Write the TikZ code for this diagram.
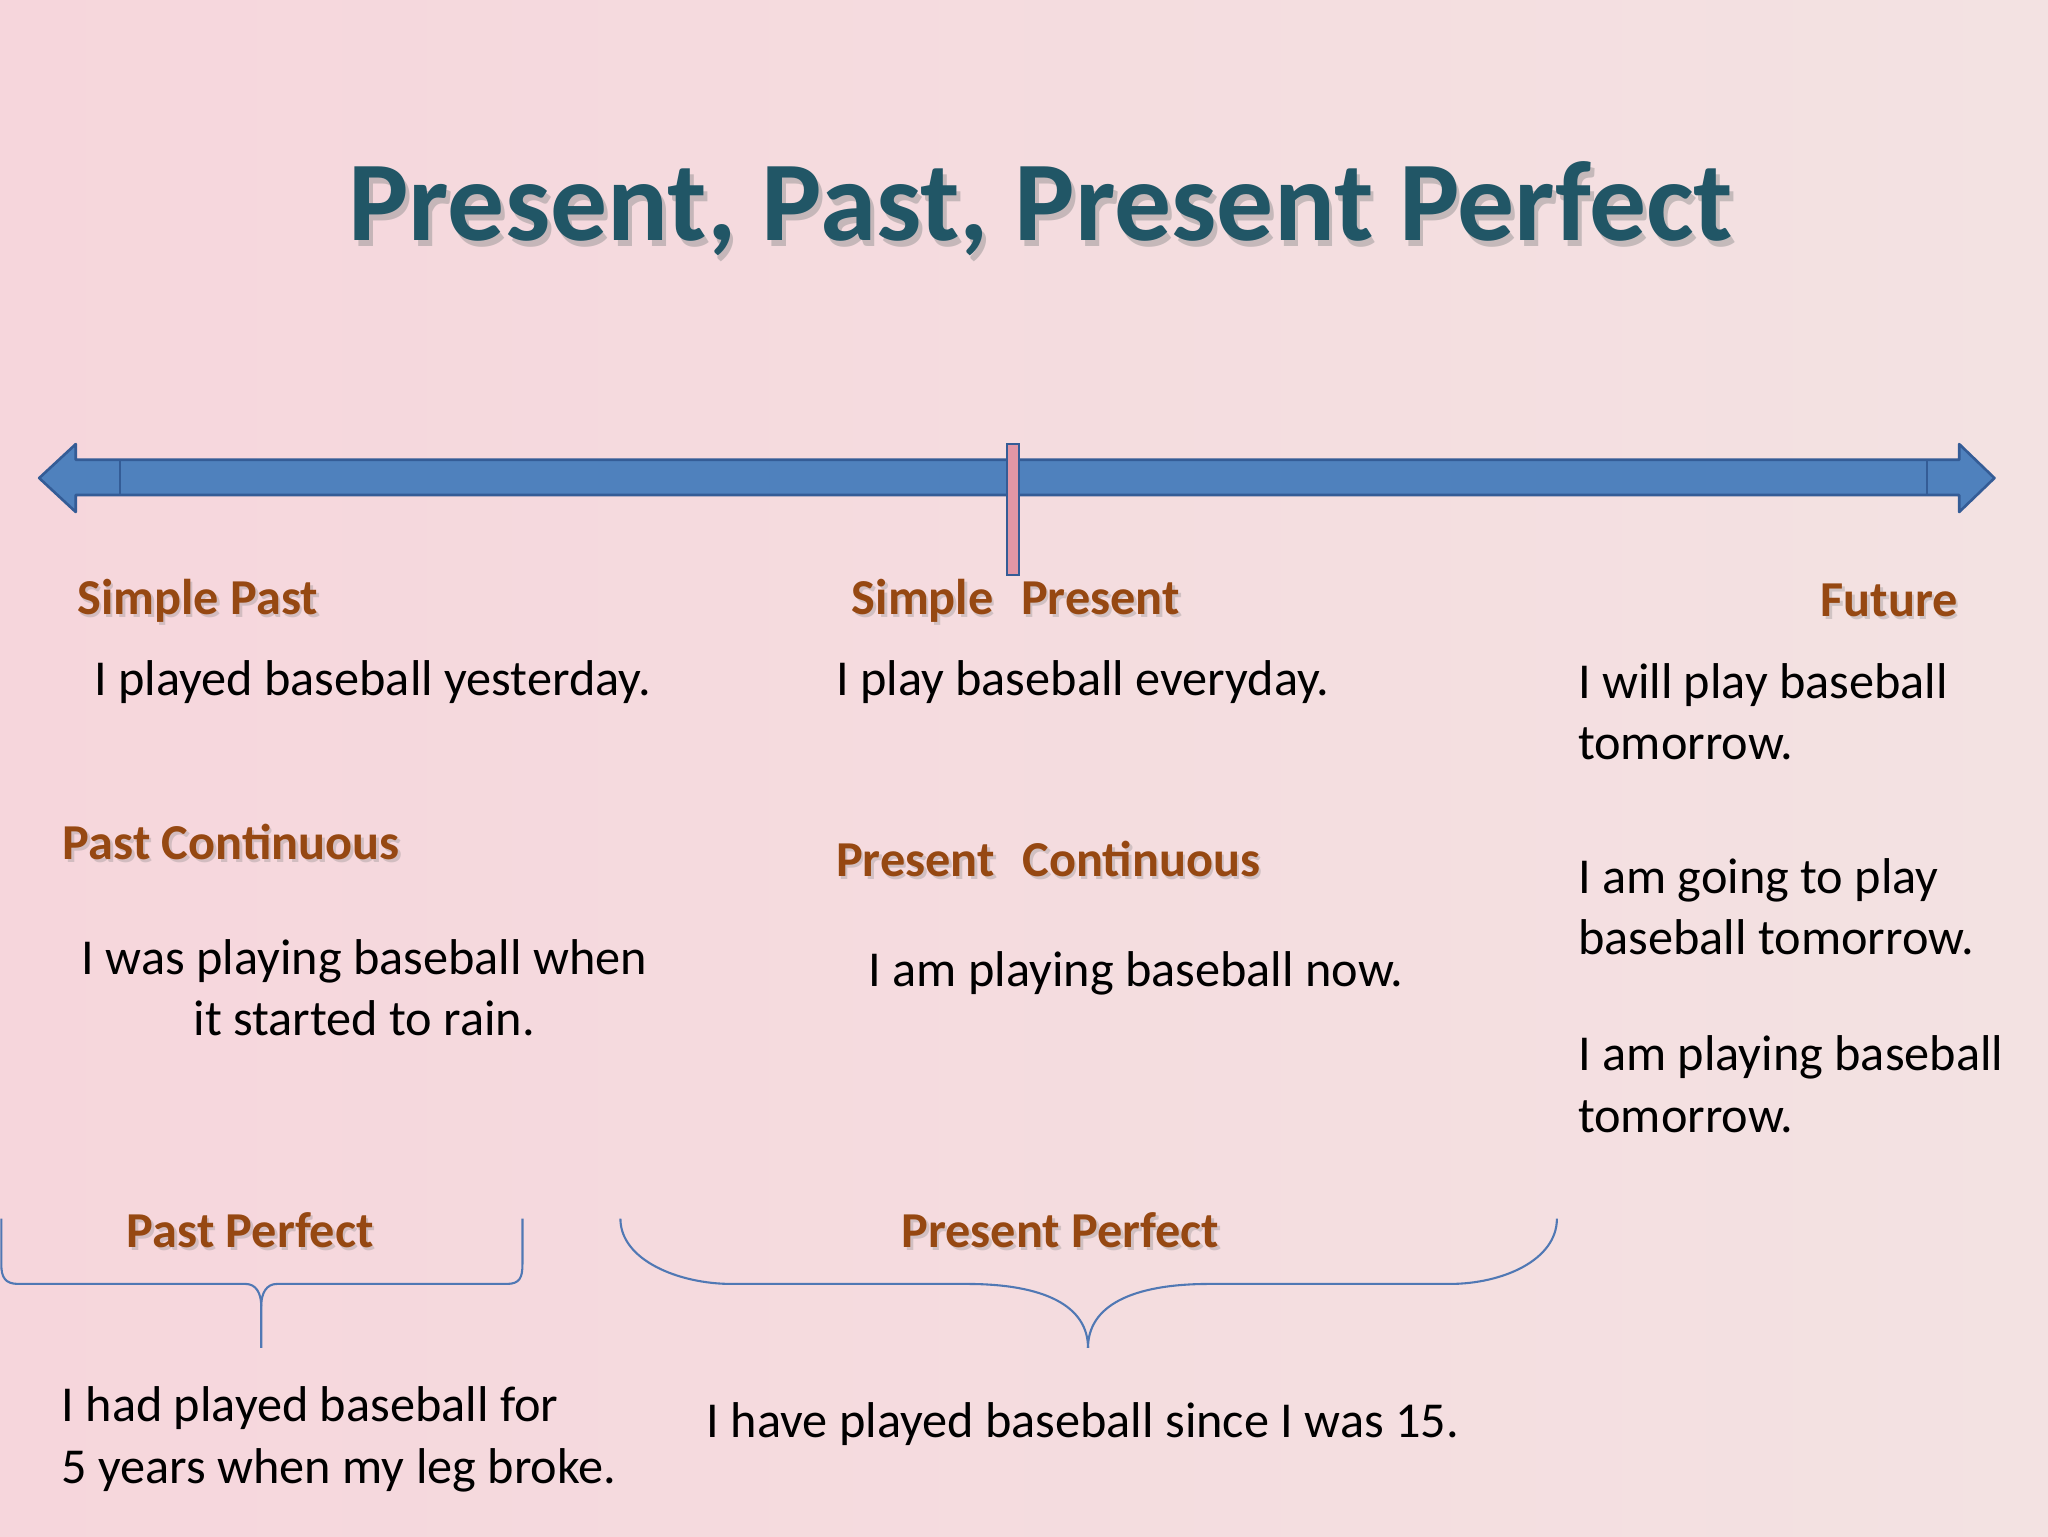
\documentclass[tikz,border=0pt]{standalone}
\usepackage{fontspec}
\setmainfont{Carlito}
\begin{document}
\begin{tikzpicture}[x=1pt,y=-1pt,
  body/.style={font=\fontsize{38.5}{47}\selectfont, text=black, inner sep=0pt, align=left},
  lbl/.style={font=\fontsize{38.5}{42}\selectfont\bfseries, text=lblc, inner sep=0pt},
  brace/.style={draw=braceblue, line width=1.6pt}]
\definecolor{bgl}{RGB}{246,214,220}
\definecolor{bgr}{RGB}{243,226,226}
\definecolor{lblc}{RGB}{150,72,18}
\definecolor{titlec}{RGB}{33,86,102}
\definecolor{arrowf}{RGB}{79,129,189}
\definecolor{arrowd}{RGB}{52,92,150}
\definecolor{braceblue}{RGB}{80,120,180}
\definecolor{tickf}{RGB}{225,150,165}
\useasboundingbox (0,0) rectangle (1568,1176);
\shade[left color=bgl, right color=bgr] (0,0) rectangle (1568,1176);
% title
\node[font=\fontsize{87}{90}\selectfont\bfseries, text=black!45, opacity=0.45] at (800,164) {Present, Past, Present Perfect};
\node[font=\fontsize{87}{90}\selectfont\bfseries, text=titlec] (title) at (797,160) {Present, Past, Present Perfect};
% timeline arrow
\draw[fill=arrowf, draw=arrowd, line width=2pt, line join=round]
  (30,366) -- (58,340) -- (58,352) -- (1500,352) -- (1500,340) -- (1527,366)
  -- (1500,392) -- (1500,379) -- (58,379) -- (58,392) -- cycle;
\draw[arrowd, line width=1.5pt] (92,352) -- (92,379) (1475,352) -- (1475,379);
\draw[fill=tickf, draw=arrowd, line width=1.8pt] (771,340) rectangle (780,440);
% label shadows
\tikzset{sh/.style={lbl, text=black!50, opacity=0.3}}
\foreach \t/\x/\y/\a in {Simple Past/59/460/west, {Simple\hspace{0.55em}Present}/652/460/west, Future/1499/460/east, Past Continuous/48/645/west, {Present\hspace{0.55em}Continuous}/640/658/west, Past Perfect/97/942/west, Present Perfect/690/942/west}
  \node[sh, anchor=\a] at (\x+2,\y+2) {\t};
\node[lbl, anchor=west] (sp) at (59,460) {Simple Past};
\node[lbl, anchor=west] (spr) at (652,460) {Simple\hspace{0.55em}Present};
\node[lbl, anchor=east] (fut) at (1499,460) {Future};
\node[lbl, anchor=west] (pc) at (48,645) {Past Continuous};
\node[lbl, anchor=west] (prc) at (640,658) {Present\hspace{0.55em}Continuous};
\node[lbl, anchor=west] (pp) at (97,942) {Past Perfect};
\node[lbl, anchor=west] (prp) at (690,942) {Present Perfect};
% sentences
\node[body, anchor=west] (s1) at (72,522) {I played baseball yesterday.};
\node[body, anchor=west] (s2) at (640,522) {I play baseball everyday.};
\node[body, anchor=west] (s3) at (1208,545) {I will play baseball\\tomorrow.};
\node[body, align=center] (s4) at (279,756) {I was playing baseball when\\it started to rain.};
\node[body, anchor=west] (s5) at (665,745) {I am playing baseball now.};
\node[body, anchor=west] (s6) at (1208,694) {I am going to play\\baseball tomorrow.};
\node[body, anchor=west] (s7) at (1208,830) {I am playing baseball\\tomorrow.};
\node[body, anchor=west] (s8) at (47,1102) {I had played baseball for\\5 years when my leg broke.};
\node[body, anchor=west] (s9) at (541,1090) {I have played baseball since I was 15.};
% braces
\draw[brace] (1,933) -- (1,968) .. controls (1,978) and (4,983) .. (14,983) -- (188,983)
  .. controls (196,983) and (200,990) .. (200,1000) -- (200,1032);
\draw[brace] (200,1000) .. controls (200,990) and (204,983) .. (212,983) -- (388,983)
  .. controls (398,983) and (400,978) .. (400,968) -- (400,933);
\draw[brace] (475,933) .. controls (475,965) and (520,983) .. (560,983) -- (740,983)
  .. controls (800,983) and (833,1000) .. (833,1032);
\draw[brace] (833,1032) .. controls (833,1000) and (866,983) .. (926,983) -- (1110,983)
  .. controls (1150,983) and (1192,965) .. (1192,933);
\end{tikzpicture}
\end{document}
